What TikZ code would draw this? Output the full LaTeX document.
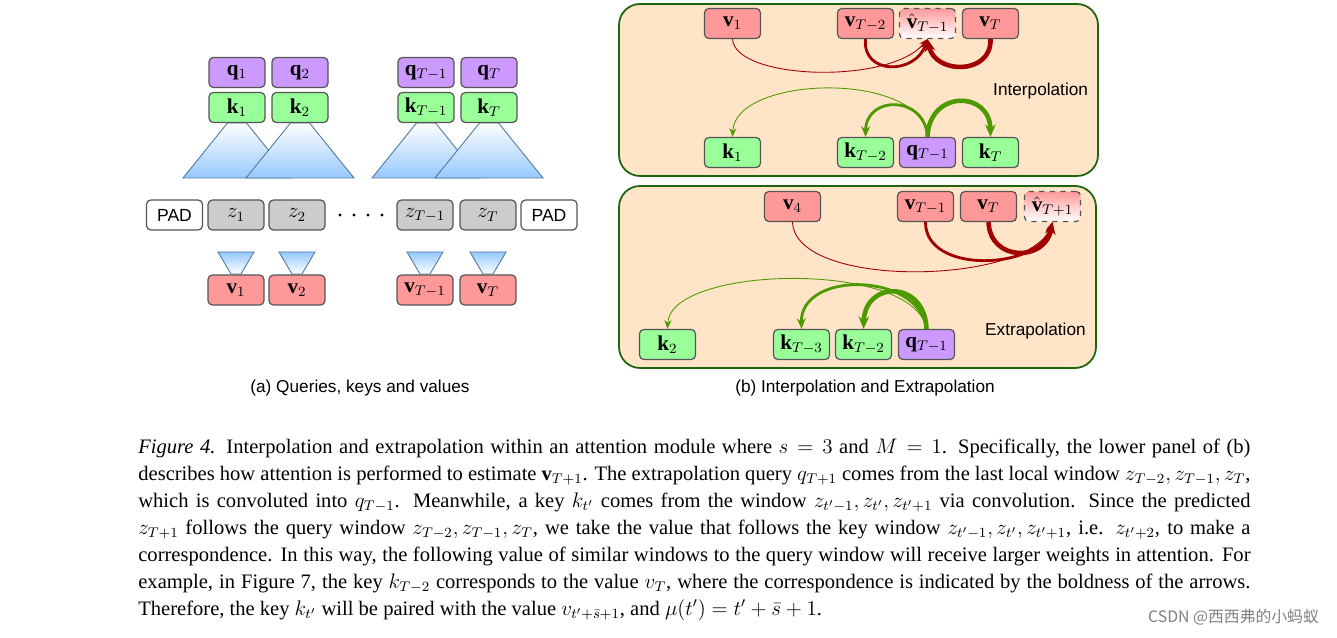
\documentclass[tikz,border=0pt]{standalone}
\usepackage{fontspec}
\setmainfont{Liberation Serif}
\newfontfamily\lsans{Liberation Sans}
\newfontfamily\cjk{Noto Sans CJK SC}
\usetikzlibrary{arrows.meta}
\definecolor{qc}{RGB}{204,153,255}
\definecolor{kc}{RGB}{153,255,153}
\definecolor{vc}{RGB}{255,153,153}
\definecolor{zc}{RGB}{204,204,204}
\definecolor{bd}{RGB}{85,85,85}
\definecolor{peach}{RGB}{255,228,200}
\definecolor{pgreen}{RGB}{30,100,10}
\definecolor{ared}{RGB}{160,0,0}
\definecolor{agreen}{RGB}{77,153,0}
\definecolor{tri}{RGB}{150,200,255}
\definecolor{trib}{RGB}{80,120,160}
\begin{document}
\begin{tikzpicture}[x=0.02cm,y=-0.02cm,
  bx/.style={draw=bd,line width=0.7pt,rounded corners=2.5pt,minimum width=1.12cm,minimum height=0.6cm,inner sep=0pt,font=\fontsize{12}{14}\selectfont},
  qb/.style={bx,fill=qc}, kb/.style={bx,fill=kc}, vb/.style={bx,fill=vc}, zb/.style={bx,fill=zc},
  pb/.style={bx,fill=white,font=\lsans\fontsize{10}{12}\selectfont},
  hb/.style={bx,dashed,top color=vc,bottom color=white},
  panel/.style={draw=pgreen,line width=1pt,fill=peach,rounded corners=12pt},
  lab/.style={font=\lsans\fontsize{9.8}{11}\selectfont},
  r1/.style={draw=ared,line width=0.5pt,-{Stealth[length=5pt,width=4pt]}},
  r2/.style={draw=ared,line width=1.6pt,-{Stealth[length=6pt,width=5pt]}},
  r3/.style={draw=ared,line width=2.6pt,-{Stealth[length=7pt,width=6pt]}},
  g1/.style={draw=agreen,line width=0.5pt,-{Stealth[length=5pt,width=4pt]}},
  g2/.style={draw=agreen,line width=1.6pt,-{Stealth[length=6pt,width=5pt]}},
  g3/.style={draw=agreen,line width=2.6pt,-{Stealth[length=7pt,width=6pt]}}]
\useasboundingbox (0,0) rectangle (1337,638);
% (a) triangles
\foreach \c in {237,300,426,489}{
  \shade[top color=white,bottom color=tri,draw=trib,line width=0.5pt] (\c-9.5,123) -- (\c+9.5,123) -- (\c+54,178) -- (\c-54,178) -- cycle;}
\foreach \c in {236,297,425,488}{
  \shade[top color=tri,bottom color=white,draw=trib,line width=0.5pt] (\c-18,252) -- (\c+18,252) -- (\c+5,274) -- (\c-5,274) -- cycle;}
\node[qb] (q1) at (237,72.5) {$\mathbf{q}_1$};
\node[qb] (q2) at (300,72.5) {$\mathbf{q}_2$};
\node[qb] (qa) at (426,72.5) {$\mathbf{q}_{T-1}$};
\node[qb] (qb) at (489,72.5) {$\mathbf{q}_T$};
\node[kb] (k1) at (237,107.5) {$\mathbf{k}_1$};
\node[kb] (k2) at (300,107.5) {$\mathbf{k}_2$};
\node[kb] (ka) at (426,107.5) {$\mathbf{k}_{T-1}$};
\node[kb] (kb) at (489,107.5) {$\mathbf{k}_T$};
\node[pb] (pad1) at (174.5,215) {PAD};
\node[zb] (z1) at (236,215) {$z_1$};
\node[zb] (z2) at (297,215) {$z_2$};
\node[zb] (za) at (425,215) {$z_{T-1}$};
\node[zb] (zb) at (488,215) {$z_T$};
\node[pb] (pad2) at (549,215) {PAD};
\foreach \x in {340,354,368,382}{\fill (\x,215) circle (1.6);}
\node[vb] (v1) at (236,290) {$\mathbf{v}_1$};
\node[vb] (v2) at (297,290) {$\mathbf{v}_2$};
\node[vb] (va) at (425,290) {$\mathbf{v}_{T-1}$};
\node[vb] (vb) at (488,290) {$\mathbf{v}_T$};
\node[lab] (capa) at (360,388) {(a) Queries, keys and values};
% (b) upper
\draw[panel] (619,4) rectangle (1098,176);
\node[vb] (u1) at (732.5,23.5) {$\mathbf{v}_1$};
\node[vb] (u2) at (865.5,23.5) {$\mathbf{v}_{T-2}$};
\node[hb] (uh) at (927.5,23.5) {$\hat{\mathbf{v}}_{T-1}$};
\node[vb] (u3) at (990.5,23.5) {$\mathbf{v}_T$};
\node[kb] (uk1) at (732.5,152.5) {$\mathbf{k}_1$};
\node[kb] (uk2) at (865.5,152.5) {$\mathbf{k}_{T-2}$};
\node[qb] (uq) at (927.5,152.5) {$\mathbf{q}_{T-1}$};
\node[kb] (uk3) at (990.5,152.5) {$\mathbf{k}_T$};
\node[lab,anchor=west] (il) at (987,91) {Interpolation};
\draw[r1] (u1.south) .. controls (735,80) and (890,85) .. (uh.south);
\draw[r2] (u2.south) .. controls (862,75) and (915,75) .. (uh.south);
\draw[r3] (u3.south) .. controls (992,75) and (935,75) .. (uh.south);
\draw[g1] (uq.north) .. controls (922,70) and (735,75) .. (uk1.north);
\draw[g2] (uq.north) .. controls (925,95) and (866,95) .. (uk2.north);
\draw[g3] (uq.north) .. controls (929,90) and (990,90) .. (uk3.north);
% (b) lower
\draw[panel] (619,186) rectangle (1096,368);
\node[vb] (l1) at (792.5,206.5) {$\mathbf{v}_4$};
\node[vb] (l2) at (925.5,206.5) {$\mathbf{v}_{T-1}$};
\node[vb] (l3) at (988.5,206.5) {$\mathbf{v}_T$};
\node[hb] (lh) at (1052.5,206.5) {$\hat{\mathbf{v}}_{T+1}$};
\node[kb] (lk1) at (667.5,344.5) {$\mathbf{k}_2$};
\node[kb] (lk2) at (801.5,344.5) {$\mathbf{k}_{T-3}$};
\node[kb] (lk3) at (863.5,344.5) {$\mathbf{k}_{T-2}$};
\node[qb] (lq) at (926.5,344.5) {$\mathbf{q}_{T-1}$};
\node[lab,anchor=west] (el) at (979,331) {Extrapolation};
\draw[r1] (l1.south) .. controls (795,290) and (1030,285) .. (lh.south);
\draw[r2] (l2.south) .. controls (925,275) and (1040,270) .. (lh.south);
\draw[r3] (l3.south) .. controls (990,262) and (1045,262) .. (lh.south);
\draw[g1] (lq.north) .. controls (915,260) and (670,265) .. (lk1.north);
\draw[g2] (lq.north) .. controls (920,272) and (800,270) .. (lk2.north);
\draw[g3] (lq.north) .. controls (925,280) and (865,280) .. (lk3.north);
\node[lab] (capb) at (865,388) {(b) Interpolation and Extrapolation};
% caption
\node[anchor=north west,inner sep=0pt,text width=633pt,align=justify,font=\fontsize{11.7}{15.3}\selectfont] (cap) at (138,439) {\emph{Figure 4.} Interpolation and extrapolation within an attention module where $s=3$ and $M=1$. Specifically, the lower panel of (b) describes how attention is performed to estimate $\mathbf{v}_{T+1}$. The extrapolation query $q_{T+1}$ comes from the last local window $z_{T-2},z_{T-1},z_T$, which is convoluted into $q_{T-1}$. Meanwhile, a key $k_{t'}$ comes from the window $z_{t'-1},z_{t'},z_{t'+1}$ via convolution. Since the predicted $z_{T+1}$ follows the query window $z_{T-2},z_{T-1},z_T$, we take the value that follows the key window $z_{t'-1},z_{t'},z_{t'+1}$, i.e. $z_{t'+2}$, to make a correspondence. In this way, the following value of similar windows to the query window will receive larger weights in attention. For example, in Figure 7, the key $k_{T-2}$ corresponds to the value $v_T$, where the correspondence is indicated by the boldness of the arrows. Therefore, the key $k_{t'}$ will be paired with the value $v_{t'+\bar{s}+1}$, and $\mu(t')=t'+\bar{s}+1$.\par};
\node[anchor=east,text=gray,font=\cjk\fontsize{9}{11}\selectfont] (wm) at (1325,617) {CSDN @西西弗的小蚂蚁};
\end{tikzpicture}
\end{document}
